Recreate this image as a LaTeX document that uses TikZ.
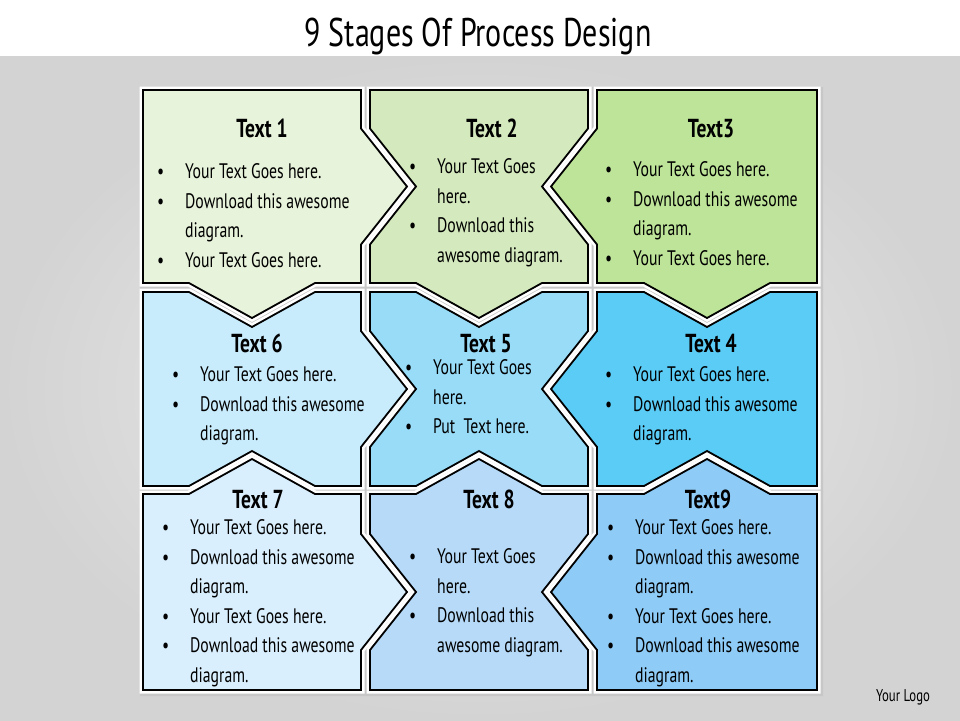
\documentclass[tikz,border=0pt]{standalone}
\usepackage{fontspec}
\setmainfont{PT Sans}[FakeStretch=0.75]

\definecolor{bgin}{HTML}{EEEEEE}
\definecolor{bgout}{HTML}{D3D3D3}
\definecolor{cone}{HTML}{E7F3DA}
\definecolor{ctwo}{HTML}{D4EABE}
\definecolor{cthree}{HTML}{BEE499}
\definecolor{csix}{HTML}{C9ECFC}
\definecolor{cfive}{HTML}{98DCF8}
\definecolor{cfour}{HTML}{5BCCF6}
\definecolor{cseven}{HTML}{DAEFFD}
\definecolor{ceight}{HTML}{B6DAF8}
\definecolor{cnine}{HTML}{8ECBF6}

\newcommand{\notchw}{63}
\newcommand{\notchd}{35}
\newcommand{\notchh}{58}
\newcommand{\notchv}{46}
\newcommand{\puzzlepath}[8]{%
(#1,#2) -- ({(#1+#3)/2-\notchw},#2) -- ({(#1+#3)/2},{#2-(#5)*\notchd}) -- ({(#1+#3)/2+\notchw},#2) --
(#3,#2) -- (#3,{(#2+#4)/2-\notchh}) -- ({#3+(#6)*\notchv},{(#2+#4)/2}) -- (#3,{(#2+#4)/2+\notchh}) --
(#3,#4) -- ({(#1+#3)/2+\notchw},#4) -- ({(#1+#3)/2},{#4+(#7)*\notchd}) -- ({(#1+#3)/2-\notchw},#4) --
(#1,#4) -- (#1,{(#2+#4)/2+\notchh}) -- ({#1-(#8)*\notchv},{(#2+#4)/2}) -- (#1,{(#2+#4)/2-\notchh}) -- cycle}
\newcommand{\gridcells}{143/90/361/283/0/1/1/0/cone, 370/90/588/283/0/-1/1/-1/ctwo, 597/90/817/283/0/0/1/1/cthree,
143/292/361/486/-1/1/-1/0/csix, 370/292/588/486/-1/-1/-1/-1/cfive, 597/292/817/486/-1/0/-1/1/cfour,
143/494/361/690/1/1/0/0/cseven, 370/494/588/690/1/-1/0/-1/ceight, 597/494/817/690/1/0/0/1/cnine}
\newcommand{\bitem}{\strut\makebox[28pt][l]{\textbullet}}
\newcommand{\bcont}{\strut\hspace*{28pt}}

\begin{document}
\begin{tikzpicture}[x=1pt,y=-1pt,
  ttl/.style={font=\bfseries\fontsize{26}{30}\selectfont,anchor=base,inner sep=0pt},
  body/.style={font=\fontsize{21}{29.5}\selectfont,align=left,anchor=north west,inner sep=0pt},
  pieceline/.style={draw=black,line width=1.8pt,line join=miter},
  piecegap/.style={draw=white,line width=7pt,line join=miter},
  pieceshade/.style={draw=black!22,line width=9pt,line join=miter,shift={(1.5,1.5)}}]
\useasboundingbox (0,0) rectangle (960,720);
\fill[white] (0,0) rectangle (960,720);
\shade[inner color=bgin,outer color=bgout] (0,56) rectangle (960,720);

\foreach \L/\T/\R/\B/\kt/\kr/\kb/\kl/\col in \gridcells
  \draw[pieceshade] \puzzlepath{\L}{\T}{\R}{\B}{\kt}{\kr}{\kb}{\kl};
\foreach \L/\T/\R/\B/\kt/\kr/\kb/\kl/\col in \gridcells
  \draw[piecegap] \puzzlepath{\L}{\T}{\R}{\B}{\kt}{\kr}{\kb}{\kl};
\foreach \L/\T/\R/\B/\kt/\kr/\kb/\kl/\col in \gridcells
  \filldraw[fill=\col,pieceline] \puzzlepath{\L}{\T}{\R}{\B}{\kt}{\kr}{\kb}{\kl};

\node[font=\fontsize{40}{44}\selectfont,anchor=base,inner sep=0pt] (title) at (478,46) {9 Stages Of Process Design};

\node[ttl] (t1) at (262,137) {Text 1};
\node[ttl] (t2) at (492,137) {Text 2};
\node[ttl] (t3) at (711,137) {Text3};
\node[ttl] (t6) at (257,352) {Text 6};
\node[ttl] (t5) at (486,352) {Text 5};
\node[ttl] (t4) at (711,352) {Text 4};
\node[ttl] (t7) at (258,508) {Text 7};
\node[ttl] (t8) at (489,508) {Text 8};
\node[ttl] (t9) at (708,508) {Text9};

\node[body] (b1) at (157,158) {\bitem Your Text Goes here.\\ \bitem Download this awesome\\ \bcont diagram.\\ \bitem Your Text Goes here.};
\node[body] (b2) at (409,153) {\bitem Your Text Goes\\ \bcont here.\\ \bitem Download this\\ \bcont awesome diagram.};
\node[body] (b3) at (605,156) {\bitem Your Text Goes here.\\ \bitem Download this awesome\\ \bcont diagram.\\ \bitem Your Text Goes here.};
\node[body] (b6) at (172,361) {\bitem Your Text Goes here.\\ \bitem Download this awesome\\ \bcont diagram.};
\node[body] (b5) at (405,354) {\bitem Your Text Goes\\ \bcont here.\\ \bitem Put\ \ Text here.};
\node[body] (b4) at (605,361) {\bitem Your Text Goes here.\\ \bitem Download this awesome\\ \bcont diagram.};
\node[body] (b7) at (162,514) {\bitem Your Text Goes here.\\ \bitem Download this awesome\\ \bcont diagram.\\ \bitem Your Text Goes here.\\ \bitem Download this awesome\\ \bcont diagram.};
\node[body] (b8) at (409,543) {\bitem Your Text Goes\\ \bcont here.\\ \bitem Download this\\ \bcont awesome diagram.};
\node[body] (b9) at (607,514) {\bitem Your Text Goes here.\\ \bitem Download this awesome\\ \bcont diagram.\\ \bitem Your Text Goes here.\\ \bitem Download this awesome\\ \bcont diagram.};

\node[font=\fontsize{17}{20}\selectfont,anchor=base,inner sep=0pt] (logo) at (903,701) {Your Logo};
\end{tikzpicture}
\end{document}
